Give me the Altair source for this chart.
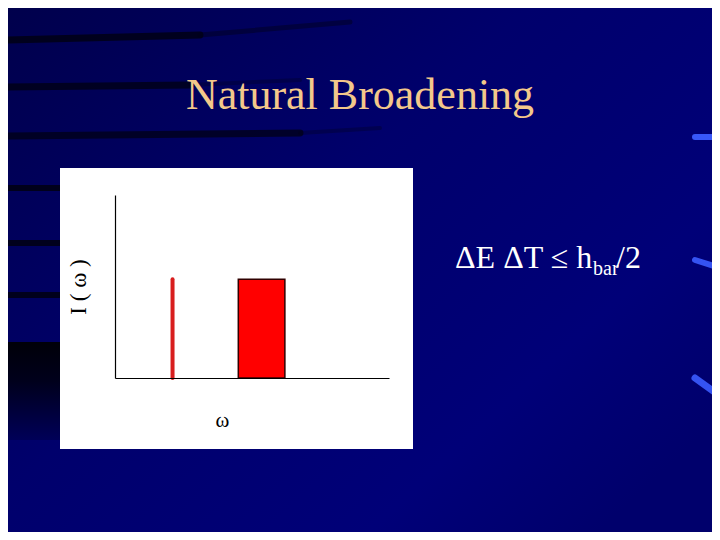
import altair as alt
import pandas as pd

# ---------------- data / text ----------------
title_text = "Natural Broadening"
x_label = "ω"
y_label = "I ( ω )"
relation_main = "ΔE ΔT ≤ h"
relation_sub = "bar"
relation_tail = "/2"

line_omega = [2.1]        # the sharp (natural) line
line_intensity = [5.4]
band_start = [4.5]        # the broadened band
band_end = [6.2]
band_intensity = [5.4]
omega_domain = [0, 10]
intensity_domain = [0, 10]

# ---------------- layout ----------------
W, H = 274, 183
PAD = {"left": 107, "top": 187, "right": 323, "bottom": 154}
OX, OY = 8 + PAD["left"], 8 + PAD["top"]   # page position of plot origin


def px(x):
    return x - OX


def py(y):
    return y - OY


one = pd.DataFrame({"k": [0]})


def seg(x1, y1, x2, y2, color, width, opacity=1.0):
    return alt.Chart(one).mark_rule(
        color=color, strokeWidth=width, opacity=opacity, strokeCap="round"
    ).encode(
        x=alt.value(px(x1)), y=alt.value(py(y1)),
        x2=alt.value(px(x2)), y2=alt.value(py(y2)),
    )


def box(x1, y1, x2, y2, **kw):
    return alt.Chart(one).mark_rect(**kw).encode(
        x=alt.value(px(x1)), y=alt.value(py(y1)),
        x2=alt.value(px(x2)), y2=alt.value(py(y2)),
    )


def label(text, x, y, **kw):
    return alt.Chart(one).mark_text(text=text, **kw).encode(
        x=alt.value(px(x)), y=alt.value(py(y))
    )


# slide background
bg = box(8, 8, 712, 532, fill=alt.LinearGradient(
    gradient="linear",
    stops=[alt.GradientStop(color="#00004c", offset=0),
           alt.GradientStop(color="#00006c", offset=0.45),
           alt.GradientStop(color="#000078", offset=0.8),
           alt.GradientStop(color="#00006c", offset=1)],
    x1=0, y1=0, x2=1, y2=0.8))

dark_patch = box(8, 342, 60, 440, fill=alt.LinearGradient(
    gradient="linear",
    stops=[alt.GradientStop(color="#000008", offset=0),
           alt.GradientStop(color="#00001c", offset=0.4),
           alt.GradientStop(color="#000058", offset=1)],
    x1=0, y1=0, x2=0, y2=1))

streaks = [
    seg(8, 40, 200, 35, "#000010", 7, 0.8),
    seg(200, 35, 350, 22, "#000018", 5, 0.45),
    seg(8, 87, 190, 85, "#000010", 7, 0.75),
    seg(190, 85, 300, 80, "#000018", 4, 0.3),
    seg(8, 136, 300, 133, "#000010", 7, 0.7),
    seg(300, 133, 380, 128, "#000018", 4, 0.3),
    seg(8, 188, 60, 188, "#000010", 6, 0.85),
    seg(8, 243, 60, 243, "#000010", 6, 0.85),
    seg(8, 295, 60, 295, "#000010", 6, 0.85),
    seg(695, 137, 720, 137, "#3b5cff", 6, 0.95),
    seg(695, 260, 720, 268, "#3b5cff", 6, 0.9),
    seg(695, 378, 720, 396, "#3b5cff", 7, 0.9),
]

panel = box(60, 168, 413, 449, fill="white")

title = label(title_text, 360, 109, font="Liberation Serif", fontSize=44,
              color="#f3c88a", align="center", baseline="alphabetic")

eq_main = label(relation_main, 455, 268, font="Liberation Serif", fontSize=32,
                color="white", align="left", baseline="alphabetic")
eq_sub = label(relation_sub, 593, 275, font="Liberation Serif", fontSize=20,
               color="white", align="left", baseline="alphabetic")
eq_tail = label(relation_tail, 616, 268, font="Liberation Serif", fontSize=32,
                color="white", align="left", baseline="alphabetic")

# ---------------- the spectrum ----------------
x_scale = alt.Scale(domain=omega_domain, nice=False, zero=False)
y_scale = alt.Scale(domain=intensity_domain, nice=False, zero=False)

x_axis = alt.Axis(title=x_label, domain=True, domainColor="black", domainWidth=1.2,
                  ticks=False, labels=False, grid=False,
                  titleFont="Liberation Serif", titleFontSize=21,
                  titleFontWeight="normal", titleColor="black",
                  titleX=107, titleY=48, titleAlign="center",
                  titleBaseline="alphabetic", zindex=1)
y_axis = alt.Axis(title=y_label, domain=True, domainColor="black", domainWidth=1.2,
                  ticks=False, labels=False, grid=False,
                  titleFont="Liberation Serif", titleFontSize=23,
                  titleFontWeight="normal", titleColor="black",
                  titleAngle=270, titleX=-29.5, titleY=91.5, titleAlign="center",
                  titleBaseline="alphabetic", zindex=1)

line_df = pd.DataFrame({"omega": line_omega, "intensity": line_intensity})
band_df = pd.DataFrame({"start": band_start, "end": band_end,
                        "intensity": band_intensity})

sharp = alt.Chart(line_df).mark_rule(color="#d81e1e", strokeWidth=4,
                                     strokeCap="round").encode(
    x=alt.X("omega:Q", scale=x_scale, axis=x_axis),
    y=alt.Y("intensity:Q", scale=y_scale, axis=y_axis),
    y2=alt.datum(0),
)

broad = alt.Chart(band_df).mark_rect(fill="#ff0000", stroke="#300000",
                                     strokeWidth=1.5).encode(
    x=alt.X("start:Q", scale=x_scale, axis=x_axis),
    x2="end:Q",
    y=alt.Y("intensity:Q", scale=y_scale, axis=y_axis),
    y2=alt.datum(0),
)

chart = alt.layer(
    bg, dark_patch, *streaks, panel, title, eq_main, eq_sub, eq_tail, broad, sharp
).properties(
    width=W, height=H, padding=PAD,
    autosize=alt.AutoSizeParams(type="none"),
    background="#000066",
).configure_view(stroke=None)

chart.save("out.html", embed_options={"renderer": "svg", "actions": False})
